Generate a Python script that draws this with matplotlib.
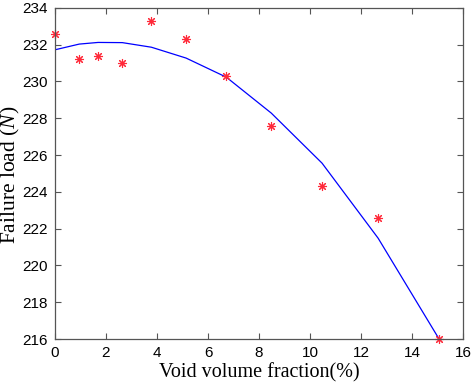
import matplotlib.pyplot as plt

# measured data (red asterisks) and fitted curve (blue line)
void_frac = [0.0, 0.95, 1.69, 2.64, 3.78, 5.14, 6.72, 8.48, 10.47, 12.67, 15.06]
failure_load = [232.6, 231.2, 231.4, 231.0, 233.3, 232.3, 230.3, 227.6, 224.3, 222.6, 216.0]
fit_load = [231.72, 232.03, 232.12, 232.11, 231.86, 231.27, 230.23, 228.28, 225.56, 221.48, 216.0]

xticks = list(range(0, 17, 2))
yticks = list(range(216, 235, 2))

plt.rcParams['mathtext.fontset'] = 'custom'
plt.rcParams['mathtext.it'] = 'Liberation Serif:italic'
plt.rcParams['mathtext.rm'] = 'Liberation Serif'

fig = plt.figure(figsize=(4.74, 3.92), dpi=100)
ax = fig.add_axes([0.116, 0.135, 0.861, 0.845])

ax.plot(void_frac, fit_load, color='#0000ff', linewidth=0.9)
ax.plot(void_frac, failure_load, linestyle='none', marker=(8, 2, 0),
        markersize=6.5, markeredgewidth=0.8, color='#ff2a3a', clip_on=False)

ax.set_xlim(0, 16)
ax.set_ylim(216, 234)
ax.set_xticks(xticks)
ax.set_yticks(yticks)

ax.tick_params(direction='in', top=True, right=True, length=4, width=0.8,
               color='#555555', labelsize=11, pad=5)
for lab in ax.get_xticklabels() + ax.get_yticklabels():
    lab.set_family('Liberation Sans')
for sp in ax.spines.values():
    sp.set_color('#555555')
    sp.set_linewidth(0.9)

ax.set_xlabel('Void volume fraction(%)', family='Liberation Serif', fontsize=14.5, labelpad=2)
ax.set_ylabel('Failure load ($\\mathit{N}$)', family='Liberation Serif', fontsize=15.5,
              va='center')
ax.yaxis.set_label_coords(-0.108, 0.495)

fig.savefig('out.png')
